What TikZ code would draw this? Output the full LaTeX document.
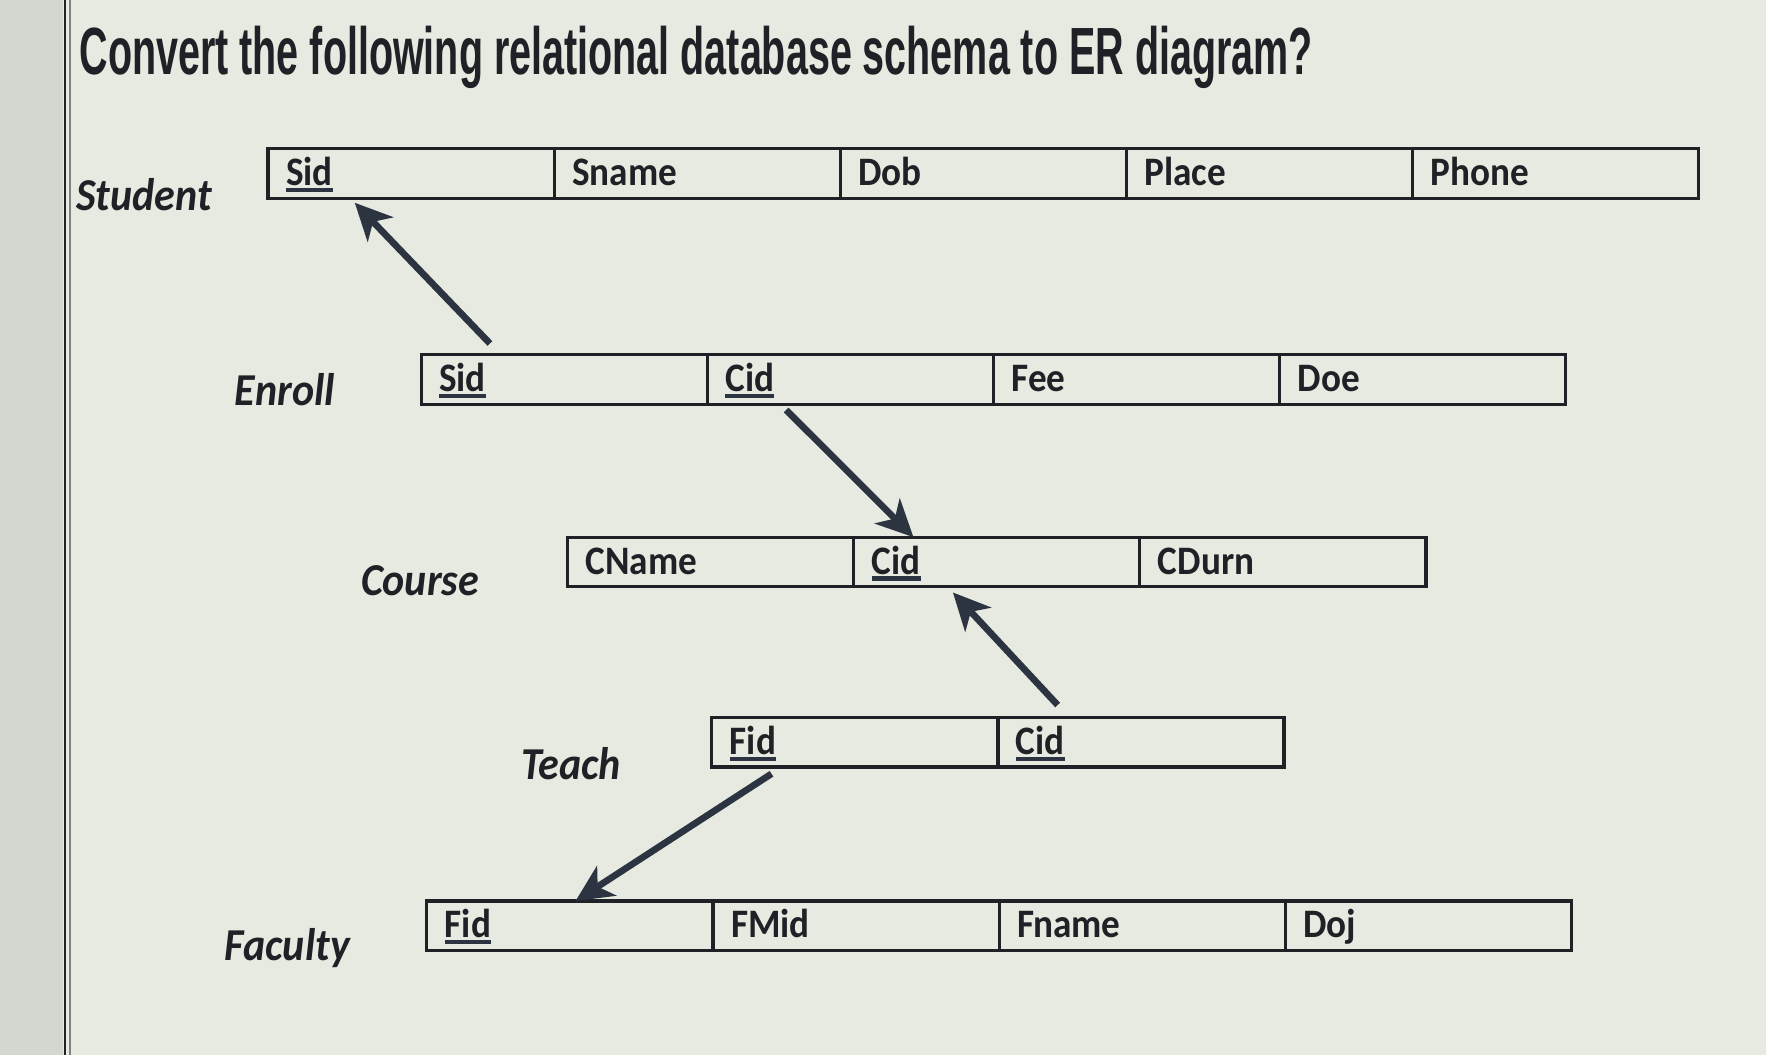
\documentclass[tikz,border=0pt]{standalone}
\usepackage{graphicx}
\usepackage{fontspec}
\setmainfont{Carlito}[FakeStretch=0.92]
\newfontfamily\titlefont{Liberation Sans}
\usetikzlibrary{positioning, arrows.meta, calc}
\definecolor{bgc}{HTML}{E7EAE0}
\definecolor{stripc}{HTML}{D3D7CF}
\definecolor{inkc}{HTML}{1E2226}
\definecolor{arrowc}{HTML}{2B3440}
\newcommand{\keyfld}[1]{\setbox0\hbox{#1}\rlap{\color{arrowc}\rule[-1.9pt]{\wd0}{1.2pt}}\box0}
\tikzset{
    attr/.style={draw=inkc, line width=0.9pt, outer sep=0pt, minimum width=2.861cm, minimum height=0.496cm,
        text width=2.50cm, align=left, inner xsep=0.18cm, inner ysep=0.048cm, text height=0.32cm, text depth=0.08cm,
        font=\fontsize{11.5}{13}\selectfont\bfseries, text=inkc},
    relname/.style={font=\fontsize{13}{15}\selectfont\bfseries\itshape, text=inkc},
    fk/.style={draw=arrowc, line width=1.9pt, -{Stealth[length=10.5pt, width=10pt, inset=3pt]}}
}

\begin{document}
\begin{tikzpicture}[x=0.011263cm, y=-0.011263cm]
    \fill [bgc] (0,0) rectangle (1568,937);
    \useasboundingbox (0,0) rectangle (1568,937);
    \fill [stripc] (0,0) rectangle (56,937);
    \draw [inkc, line width=0.6pt] (58,0) -- (58,937);
    \draw [gray, line width=0.6pt] (62,0) -- (62,937);
    \node (title) [anchor=base west, inner sep=0pt, text=inkc] at (70,66)
        {\resizebox{12.33cm}{\height}{\titlefont\bfseries\fontsize{19}{21}\selectfont Convert the following relational database schema to ER diagram?}};
    % Student
    \node (stSid) [attr] at (365,154) {\keyfld{Sid}};
    \node (stSname) [attr, right=0pt of stSid] {Sname};
    \node (stDob) [attr, right=0pt of stSname] {Dob};
    \node (stPlace) [attr, right=0pt of stDob] {Place};
    \node (stPhone) [attr, right=0pt of stPlace] {Phone};
    % Enroll
    \node (enSid) [attr] at (501,337) {\keyfld{Sid}};
    \node (enCid) [attr, right=0pt of enSid] {\keyfld{Cid}};
    \node (enFee) [attr, right=0pt of enCid] {Fee};
    \node (enDoe) [attr, right=0pt of enFee] {Doe};
    % Course
    \node (coName) [attr] at (631,499) {CName};
    \node (coCid) [attr, right=0pt of coName] {\keyfld{Cid}};
    \node (coDurn) [attr, right=0pt of coCid] {CDurn};
    % Teach
    \node (tcFid) [attr] at (759,659) {\keyfld{Fid}};
    \node (tcCid) [attr, right=0pt of tcFid] {\keyfld{Cid}};
    % Faculty
    \node (faFid) [attr] at (506,822) {\keyfld{Fid}};
    \node (faMid) [attr, right=0pt of faFid] {FMid};
    \node (faName) [attr, right=0pt of faMid] {Fname};
    \node (faDoj) [attr, right=0pt of faName] {Doj};
    % Labels
    \node (student) [relname] at (128,173) {Student};
    \node (enroll) [relname] at (253,346) {Enroll};
    \node (course) [relname] at (373,516) {Course};
    \node (teach) [relname] at (507,678) {Teach};
    \node (faculty) [relname] at (255,842) {Faculty};
    % Foreign keys
    \draw [fk] ($(enSid.north)+(-66,-10)$) -- ($(stSid.south)+(-50,4)$);
    \draw [fk] ($(enCid.south)+(-57,5)$) -- ($(coCid.north)+(-74,0)$);
    \draw [fk] ($(tcCid.north)+(-74,-11)$) -- ($(coCid.south)+(-39,5)$);
    \draw [fk] ($(tcFid.south)+(-74,6)$) -- ($(faFid.north)+(5,0)$);
\end{tikzpicture}
\end{document}
